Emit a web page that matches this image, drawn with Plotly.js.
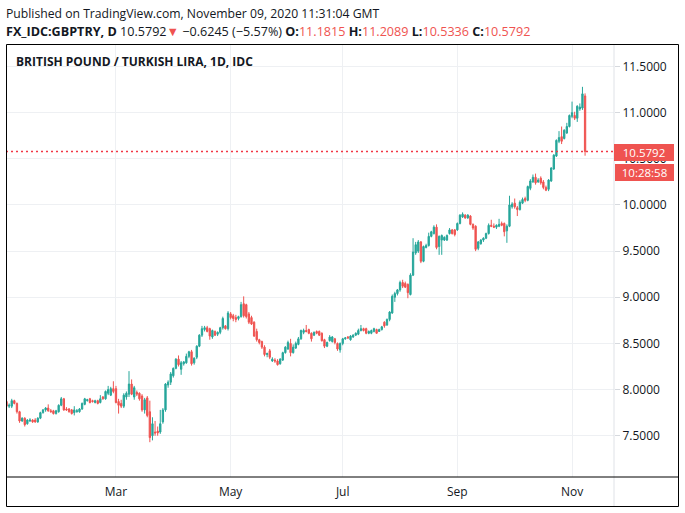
<!DOCTYPE html>
<html>
<head>
<meta charset="utf-8">
<script src="https://cdn.plot.ly/plotly-3.0.1.min.js"></script>
<style>
  html, body { margin: 0; padding: 0; background: #ffffff; }
  #chart { width: 685px; height: 513px; }
</style>
</head>
<body>
<div id="chart"></div>
<script>
// GBP/TRY daily sessions (FX_IDC), 2 Jan 2020 - 9 Nov 2020, one row per month.
const openPx = [
  7.87,7.82,7.82,7.88,7.85,7.76,7.66,7.69,7.63,7.66,7.67,7.67,7.65,7.69,7.75,7.78,7.80,7.77,7.77,7.74,7.76,7.83,
  7.90,7.79,7.79,7.78,7.75,7.76,7.76,7.79,7.84,7.88,7.90,7.88,7.86,7.88,7.86,7.92,7.90,7.96,7.94,8.01,
  8.01,7.87,7.85,7.82,7.92,7.95,8.06,7.92,7.97,7.96,7.93,7.78,7.91,7.76,7.50,7.54,7.55,7.54,7.65,7.78,8.05,8.08,
  8.15,8.23,8.33,8.22,8.28,8.29,8.36,8.41,8.29,8.35,8.47,8.59,8.65,8.67,8.66,8.57,8.63,8.60,8.62,8.67,8.69,8.66,
  8.82,8.80,8.78,8.77,8.79,8.93,8.92,8.82,8.78,8.73,8.63,8.54,8.52,8.46,8.38,8.42,8.31,8.32,8.31,8.28,8.32,
  8.40,8.44,8.50,8.40,8.45,8.49,8.55,8.62,8.64,8.65,8.61,8.59,8.63,8.63,8.61,8.54,8.47,8.53,8.52,8.55,8.50,8.43,
  8.50,8.55,8.57,8.54,8.57,8.59,8.60,8.64,8.66,8.66,8.61,8.61,8.63,8.65,8.63,8.65,8.73,8.70,8.76,8.83,9.00,9.04,9.08,
  9.16,9.15,9.14,9.03,9.24,9.48,9.50,9.60,9.39,9.54,9.56,9.66,9.69,9.76,9.55,9.62,9.62,9.62,9.69,9.73,9.73,
  9.73,9.80,9.87,9.89,9.86,9.88,9.79,9.77,9.53,9.58,9.62,9.64,9.69,9.78,9.77,9.76,9.77,9.80,9.80,9.72,9.77,9.98,
  10.02,9.97,9.95,10.02,10.07,10.05,10.18,10.25,10.30,10.25,10.29,10.25,10.19,10.17,10.26,10.39,10.53,10.69,10.74,10.72,10.78,10.85,
  10.96,10.97,10.94,11.04,11.05,11.1815
];
const highPx = [
  7.89,7.85,7.90,7.89,7.86,7.77,7.70,7.70,7.68,7.69,7.68,7.69,7.70,7.76,7.79,7.81,7.84,7.79,7.78,7.78,7.84,7.92,
  7.91,7.81,7.80,7.79,7.82,7.79,7.80,7.86,7.91,7.90,7.91,7.89,7.89,7.89,7.94,7.93,7.99,8.04,8.03,8.09,
  8.04,7.90,7.89,7.96,7.98,8.20,8.11,8.04,7.99,7.97,7.95,7.91,7.93,7.88,7.70,7.66,7.60,7.78,7.80,8.07,8.10,8.19,
  8.24,8.34,8.37,8.31,8.31,8.39,8.42,8.43,8.35,8.48,8.60,8.69,8.69,8.69,8.67,8.65,8.64,8.63,8.68,8.79,8.70,8.85,
  8.84,8.82,8.81,8.80,8.95,9.01,8.93,8.84,8.80,8.74,8.66,8.55,8.53,8.48,8.40,8.44,8.35,8.34,8.33,8.34,8.41,
  8.47,8.53,8.55,8.49,8.52,8.57,8.65,8.66,8.70,8.66,8.62,8.63,8.64,8.64,8.62,8.55,8.52,8.59,8.58,8.56,8.51,8.51,
  8.56,8.57,8.58,8.59,8.60,8.62,8.66,8.70,8.67,8.67,8.64,8.65,8.67,8.66,8.66,8.69,8.74,8.77,8.85,9.03,9.06,9.09,9.18,
  9.19,9.17,9.15,9.26,9.64,9.60,9.62,9.61,9.56,9.58,9.70,9.72,9.78,9.79,9.67,9.68,9.66,9.68,9.75,9.74,9.74,
  9.81,9.90,9.92,9.90,9.90,9.89,9.80,9.78,9.61,9.63,9.65,9.70,9.80,9.84,9.80,9.79,9.85,9.82,9.81,9.79,10.10,10.03,
  10.07,9.99,10.05,10.08,10.09,10.21,10.28,10.33,10.34,10.29,10.31,10.27,10.21,10.28,10.41,10.55,10.71,10.80,10.85,10.82,10.89,10.98,
  11.12,11.01,11.08,11.10,11.28,11.2089
];
const lowPx = [
  7.80,7.80,7.80,7.84,7.74,7.64,7.65,7.60,7.62,7.65,7.64,7.64,7.64,7.68,7.74,7.76,7.76,7.75,7.73,7.73,7.75,7.82,
  7.77,7.77,7.75,7.73,7.72,7.75,7.75,7.78,7.83,7.87,7.85,7.86,7.85,7.84,7.85,7.89,7.89,7.94,7.93,7.96,
  7.85,7.74,7.80,7.80,7.89,7.92,7.94,7.89,7.93,7.88,7.76,7.74,7.70,7.43,7.45,7.50,7.50,7.52,7.63,7.76,8.02,8.05,
  8.13,8.22,8.25,8.16,8.26,8.28,8.34,8.26,8.27,8.33,8.46,8.57,8.63,8.62,8.54,8.55,8.58,8.58,8.60,8.65,8.65,8.64,
  8.76,8.74,8.73,8.75,8.78,8.78,8.77,8.71,8.70,8.57,8.52,8.49,8.44,8.36,8.35,8.33,8.30,8.29,8.26,8.27,8.31,
  8.39,8.43,8.36,8.39,8.44,8.48,8.54,8.60,8.62,8.60,8.52,8.58,8.60,8.58,8.52,8.45,8.46,8.52,8.51,8.49,8.42,8.40,
  8.48,8.54,8.55,8.53,8.56,8.58,8.59,8.63,8.63,8.60,8.60,8.60,8.62,8.62,8.64,8.64,8.67,8.69,8.74,8.82,8.95,9.02,9.06,
  9.10,9.10,8.99,9.02,9.23,9.46,9.48,9.37,9.38,9.53,9.55,9.65,9.68,9.52,9.46,9.46,9.61,9.61,9.68,9.68,9.66,
  9.72,9.79,9.86,9.85,9.85,9.78,9.73,9.50,9.51,9.57,9.60,9.63,9.68,9.76,9.75,9.74,9.76,9.77,9.66,9.59,9.76,9.96,
  9.96,9.88,9.94,10.01,10.03,10.04,10.16,10.24,10.22,10.24,10.22,10.17,10.15,10.15,10.25,10.38,10.52,10.67,10.66,10.71,10.77,10.84,
  10.94,10.92,10.90,11.02,11.03,10.5336
];
const closePx = [
  7.82,7.83,7.88,7.85,7.76,7.66,7.69,7.62,7.67,7.67,7.65,7.65,7.69,7.75,7.78,7.80,7.77,7.76,7.74,7.77,7.83,7.90,
  7.78,7.78,7.76,7.74,7.78,7.77,7.79,7.85,7.90,7.89,7.86,7.87,7.88,7.85,7.90,7.90,7.98,8.00,8.01,7.98,
  7.86,7.83,7.82,7.94,7.96,8.06,7.95,8.02,7.95,7.90,7.78,7.89,7.72,7.48,7.63,7.53,7.53,7.63,7.78,8.06,8.08,8.17,
  8.23,8.33,8.27,8.29,8.30,8.36,8.41,8.28,8.34,8.47,8.59,8.66,8.67,8.63,8.58,8.64,8.59,8.62,8.67,8.77,8.66,8.83,
  8.78,8.77,8.76,8.79,8.92,8.80,8.79,8.73,8.71,8.58,8.54,8.51,8.46,8.38,8.39,8.35,8.33,8.31,8.27,8.33,8.40,
  8.46,8.51,8.40,8.46,8.50,8.55,8.64,8.64,8.63,8.61,8.55,8.62,8.61,8.59,8.53,8.47,8.51,8.57,8.57,8.51,8.44,8.50,
  8.55,8.56,8.56,8.58,8.59,8.61,8.64,8.66,8.64,8.61,8.63,8.64,8.66,8.61,8.65,8.68,8.69,8.76,8.84,9.01,9.04,9.08,9.16,
  9.12,9.11,9.05,9.24,9.49,9.57,9.60,9.39,9.55,9.56,9.66,9.71,9.76,9.54,9.66,9.67,9.65,9.67,9.73,9.69,9.68,
  9.80,9.89,9.90,9.86,9.89,9.79,9.75,9.52,9.60,9.62,9.64,9.69,9.78,9.77,9.76,9.78,9.79,9.78,9.71,9.77,10.00,10.01,
  9.98,9.95,10.03,10.06,10.05,10.20,10.26,10.30,10.24,10.27,10.24,10.19,10.16,10.27,10.40,10.54,10.70,10.73,10.69,10.81,10.85,10.97,
  11.00,10.94,11.07,11.06,11.2037,10.5792
];

const firstSession = '2020-01-02';
const monthTicks = ['2020-03-02', '2020-05-01', '2020-07-01', '2020-09-01', '2020-11-02'];
const monthLabels = ['Mar', 'May', 'Jul', 'Sep', 'Nov'];
const countdownText = '10:28:58';

const UP = '#26a69a';
const DOWN = '#ef5350';
const INK = '#131722';
const GRID = '#eef0f3';
const FONT = 'Open Sans, Liberation Sans, sans-serif';

// Weekday session dates (FX trades Mon-Fri)
function sessionDates(start, count) {
  const out = [];
  const d = new Date(start + 'T00:00:00Z');
  while (out.length < count) {
    const wd = d.getUTCDay();
    if (wd !== 0 && wd !== 6) out.push(d.toISOString().slice(0, 10));
    d.setUTCDate(d.getUTCDate() + 1);
  }
  return out;
}
const dates = sessionDates(firstSession, closePx.length);

// pane geometry in page pixels
const PANE = { l: 6, t: 44, r: 614, b: 477 };
const PW = PANE.r - PANE.l, PH = PANE.b - PANE.t;
const fx = x => (x - PANE.l) / PW;
const fy = y => (PANE.b - y) / PH;
const PRICE_RANGE = [7.053, 11.744];

const n = closePx.length;
const lastO = openPx[n - 1], lastH = highPx[n - 1], lastL = lowPx[n - 1], lastC = closePx[n - 1];
const prevC = closePx[n - 2];
const chg = lastC - prevC;
const pct = chg / prevC * 100;
const signed = (v, digits) => (v < 0 ? '\u2212' : '+') + Math.abs(v).toFixed(digits);
const red = s => '<span style="color:' + DOWN + '">' + s + '</span>';

// vertical pixel of the last close, used to stack the countdown tag under the price tag
const lastPixelY = PANE.b - (lastC - PRICE_RANGE[0]) / (PRICE_RANGE[1] - PRICE_RANGE[0]) * PH;

const headerLine2 =
  '<b>FX_IDC:GBPTRY, D</b> ' + lastC.toFixed(4) + red('\u25BC') + ' ' +
  signed(chg, 4) + ' (' + signed(pct, 2) + '%) ' +
  '<b>O:</b>' + red(lastO.toFixed(4)) + ' <b>H:</b>' + red(lastH.toFixed(4)) +
  ' <b>L:</b>' + red(lastL.toFixed(4)) + ' <b>C:</b>' + red(lastC.toFixed(4));

const trace = {
  type: 'candlestick',
  x: dates,
  open: openPx, high: highPx, low: lowPx, close: closePx,
  increasing: { line: { color: UP, width: 1 }, fillcolor: UP },
  decreasing: { line: { color: DOWN, width: 1 }, fillcolor: DOWN },
  whiskerwidth: 0,
  hoverinfo: 'skip',
  showlegend: false
};

const layout = {
  width: 685, height: 513,
  margin: { l: PANE.l, r: 685 - PANE.r, t: PANE.t, b: 513 - PANE.b, pad: 0 },
  paper_bgcolor: '#ffffff',
  plot_bgcolor: '#ffffff',
  showlegend: false,
  boxgap: 0.28,
  font: { family: FONT, size: 12, color: INK },
  xaxis: {
    type: 'date',
    range: ['2020-01-01 19:12', '2020-11-24 02:24'],
    rangebreaks: [{ bounds: ['sat', 'mon'] }],
    rangeslider: { visible: false },
    tickmode: 'array', tickvals: monthTicks, ticktext: monthLabels,
    showgrid: true, gridcolor: GRID, gridwidth: 1,
    zeroline: false, showline: false, ticks: '',
    ticklabelstandoff: 6,
    tickfont: { family: FONT, size: 12, color: INK },
    fixedrange: true
  },
  yaxis: {
    side: 'right',
    range: PRICE_RANGE,
    tick0: 0, dtick: 0.5, tickformat: '.4f',
    showgrid: true, gridcolor: GRID, gridwidth: 1,
    zeroline: false, showline: false,
    ticks: 'outside', ticklen: 5, tickcolor: '#d6d9de',
    tickfont: { family: FONT, size: 12, color: INK },
    fixedrange: true
  },
  shapes: [
    // last price dotted line
    { type: 'line', layer: 'above', xref: 'paper', yref: 'y', x0: 0, x1: 1, y0: lastC, y1: lastC,
      opacity: 1, line: { color: 'rgb(242,54,69)', width: 1.4, dash: '2px,3px' } },
    // price scale separator
    { type: 'line', xref: 'paper', yref: 'paper', x0: 1, x1: 1, y0: fy(507), y1: 1,
      line: { color: '#dfe2e7', width: 1 } },
    // time scale separator
    { type: 'line', xref: 'paper', yref: 'paper', x0: 0, x1: fx(678.5), y0: 0, y1: 0,
      line: { color: '#000000', width: 1 } },
    // outer frame
    { type: 'rect', xref: 'paper', yref: 'paper', x0: fx(6.5), x1: fx(678.5), y0: fy(506.5), y1: fy(44.5),
      line: { color: '#000000', width: 1 }, fillcolor: 'rgba(0,0,0,0)' }
  ],
  annotations: [
    { xref: 'paper', yref: 'paper', x: fx(4), y: fy(13), xanchor: 'left', yanchor: 'middle',
      text: 'Published on TradingView.com, November 09, 2020 11:31:04 GMT',
      showarrow: false, font: { family: FONT, size: 12.2, color: INK } },
    { xref: 'paper', yref: 'paper', x: fx(4), y: fy(31), xanchor: 'left', yanchor: 'middle',
      text: headerLine2, showarrow: false, font: { family: FONT, size: 12.6, color: INK } },
    { xref: 'paper', yref: 'paper', x: fx(14), y: fy(61), xanchor: 'left', yanchor: 'middle',
      text: '<b>BRITISH POUND / TURKISH LIRA, 1D, IDC</b>',
      showarrow: false, font: { family: FONT, size: 12, color: INK } },
    // last price tag
    { xref: 'paper', yref: 'paper', x: fx(614), y: fy(lastPixelY + 1), xanchor: 'left', yanchor: 'middle',
      text: lastC.toFixed(4), showarrow: false, align: 'center',
      width: 58, height: 15, borderpad: 1, borderwidth: 0, bgcolor: DOWN,
      font: { family: FONT, size: 11.5, color: '#ffffff' } },
    // bar countdown tag
    { xref: 'paper', yref: 'paper', x: fx(615), y: fy(lastPixelY + 21), xanchor: 'left', yanchor: 'middle',
      text: countdownText, showarrow: false, align: 'center',
      width: 57, height: 15, borderpad: 1, borderwidth: 0, bgcolor: DOWN,
      font: { family: FONT, size: 11.5, color: '#ffffff' } }
  ]
};

Plotly.newPlot('chart', [trace], layout, { staticPlot: true, displayModeBar: false });
</script>
</body>
</html>
